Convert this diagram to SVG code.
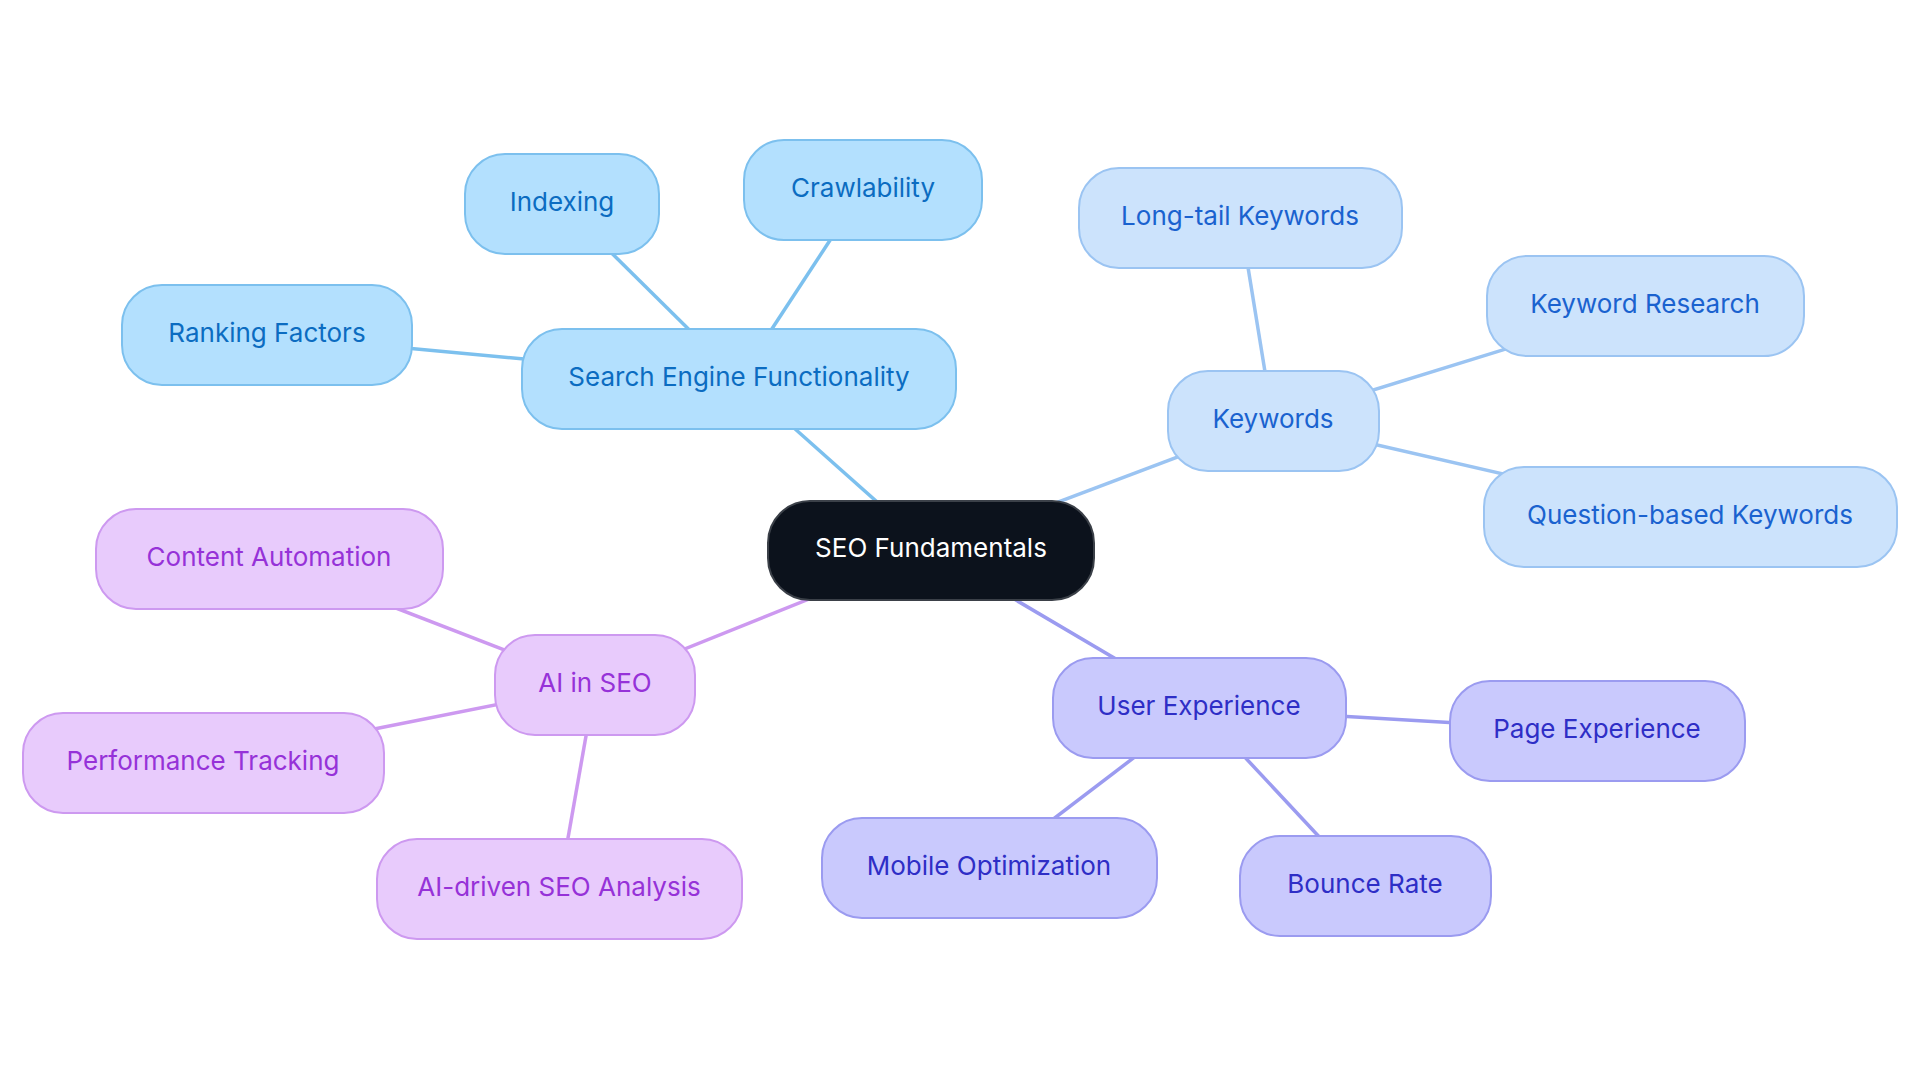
<svg xmlns="http://www.w3.org/2000/svg" width="1920" height="1083" viewBox="0 0 1920 1083">
<style>
text{font-family:Inter,"Noto Sans","Liberation Sans",sans-serif;font-size:26px;text-anchor:middle}
.n rect{stroke-width:2}
.root rect{fill:#0c121c;stroke:#3b4048}
.root text{fill:#ffffff}
.sef rect{fill:#b3e0fe;stroke:#7cc0ee}
.sef text{fill:#0b6cc1}
.kw rect{fill:#cce3fc;stroke:#9bc4f2}
.kw text{fill:#1a62cf}
.ux rect{fill:#c9c9fd;stroke:#9b9bf0}
.ux text{fill:#2e2ec6}
.ai rect{fill:#e8cbfc;stroke:#cd99f0}
.ai text{fill:#9632d8}
#connectors line{stroke-width:3.5;fill:none}
.c-sef{stroke:#7cc0ee}
.c-kw{stroke:#9bc4f2}
.c-ux{stroke:#9b9bf0}
.c-ai{stroke:#cd99f0}
</style>
<rect width="1920" height="1083" fill="#ffffff"/>
<g id="connectors">
<line class="c-sef" x1="931" y1="550" x2="739" y2="379"/>
<line class="c-sef" x1="739" y1="379" x2="562" y2="204"/>
<line class="c-sef" x1="739" y1="379" x2="863" y2="190"/>
<line class="c-sef" x1="739" y1="379" x2="267" y2="335"/>
<line class="c-kw" x1="931" y1="550" x2="1273" y2="421"/>
<line class="c-kw" x1="1273" y1="421" x2="1240" y2="218"/>
<line class="c-kw" x1="1273" y1="421" x2="1645" y2="306"/>
<line class="c-kw" x1="1273" y1="421" x2="1690" y2="517"/>
<line class="c-ux" x1="931" y1="550" x2="1199" y2="708"/>
<line class="c-ux" x1="1199" y1="708" x2="1597" y2="731"/>
<line class="c-ux" x1="1199" y1="708" x2="989" y2="868"/>
<line class="c-ux" x1="1199" y1="708" x2="1365" y2="886"/>
<line class="c-ai" x1="931" y1="550" x2="595" y2="685"/>
<line class="c-ai" x1="595" y1="685" x2="269" y2="559"/>
<line class="c-ai" x1="595" y1="685" x2="203" y2="763"/>
<line class="c-ai" x1="595" y1="685" x2="559" y2="889"/>
</g>
<g id="node-root" class="n root"><rect x="768" y="501" width="326" height="99" rx="42"/><text x="931" y="557">SEO Fundamentals</text></g>
<g id="node-sef" class="n sef"><rect x="522" y="329" width="434" height="100" rx="40"/><text x="739" y="386">Search Engine Functionality</text></g>
<g id="node-indexing" class="n sef"><rect x="465" y="154" width="194" height="100" rx="40"/><text x="562" y="211">Indexing</text></g>
<g id="node-crawl" class="n sef"><rect x="744" y="140" width="238" height="100" rx="40"/><text x="863" y="197">Crawlability</text></g>
<g id="node-ranking" class="n sef"><rect x="122" y="285" width="290" height="100" rx="40"/><text x="267" y="342">Ranking Factors</text></g>
<g id="node-keywords" class="n kw"><rect x="1168" y="371" width="211" height="100" rx="40"/><text x="1273" y="428">Keywords</text></g>
<g id="node-longtail" class="n kw"><rect x="1079" y="168" width="323" height="100" rx="40"/><text x="1240" y="225">Long-tail Keywords</text></g>
<g id="node-research" class="n kw"><rect x="1487" y="256" width="317" height="100" rx="40"/><text x="1645" y="313">Keyword Research</text></g>
<g id="node-question" class="n kw"><rect x="1484" y="467" width="413" height="100" rx="40"/><text x="1690" y="524">Question-based Keywords</text></g>
<g id="node-ux" class="n ux"><rect x="1053" y="658" width="293" height="100" rx="40"/><text x="1199" y="715">User Experience</text></g>
<g id="node-page" class="n ux"><rect x="1450" y="681" width="295" height="100" rx="40"/><text x="1597" y="738">Page Experience</text></g>
<g id="node-mobile" class="n ux"><rect x="822" y="818" width="335" height="100" rx="40"/><text x="989" y="875">Mobile Optimization</text></g>
<g id="node-bounce" class="n ux"><rect x="1240" y="836" width="251" height="100" rx="40"/><text x="1365" y="893">Bounce Rate</text></g>
<g id="node-ai" class="n ai"><rect x="495" y="635" width="200" height="100" rx="40"/><text x="595" y="692">AI in SEO</text></g>
<g id="node-content" class="n ai"><rect x="96" y="509" width="347" height="100" rx="40"/><text x="269" y="566">Content Automation</text></g>
<g id="node-perf" class="n ai"><rect x="23" y="713" width="361" height="100" rx="40"/><text x="203" y="770">Performance Tracking</text></g>
<g id="node-aidriven" class="n ai"><rect x="377" y="839" width="365" height="100" rx="40"/><text x="559" y="896">AI-driven SEO Analysis</text></g>
</svg>
